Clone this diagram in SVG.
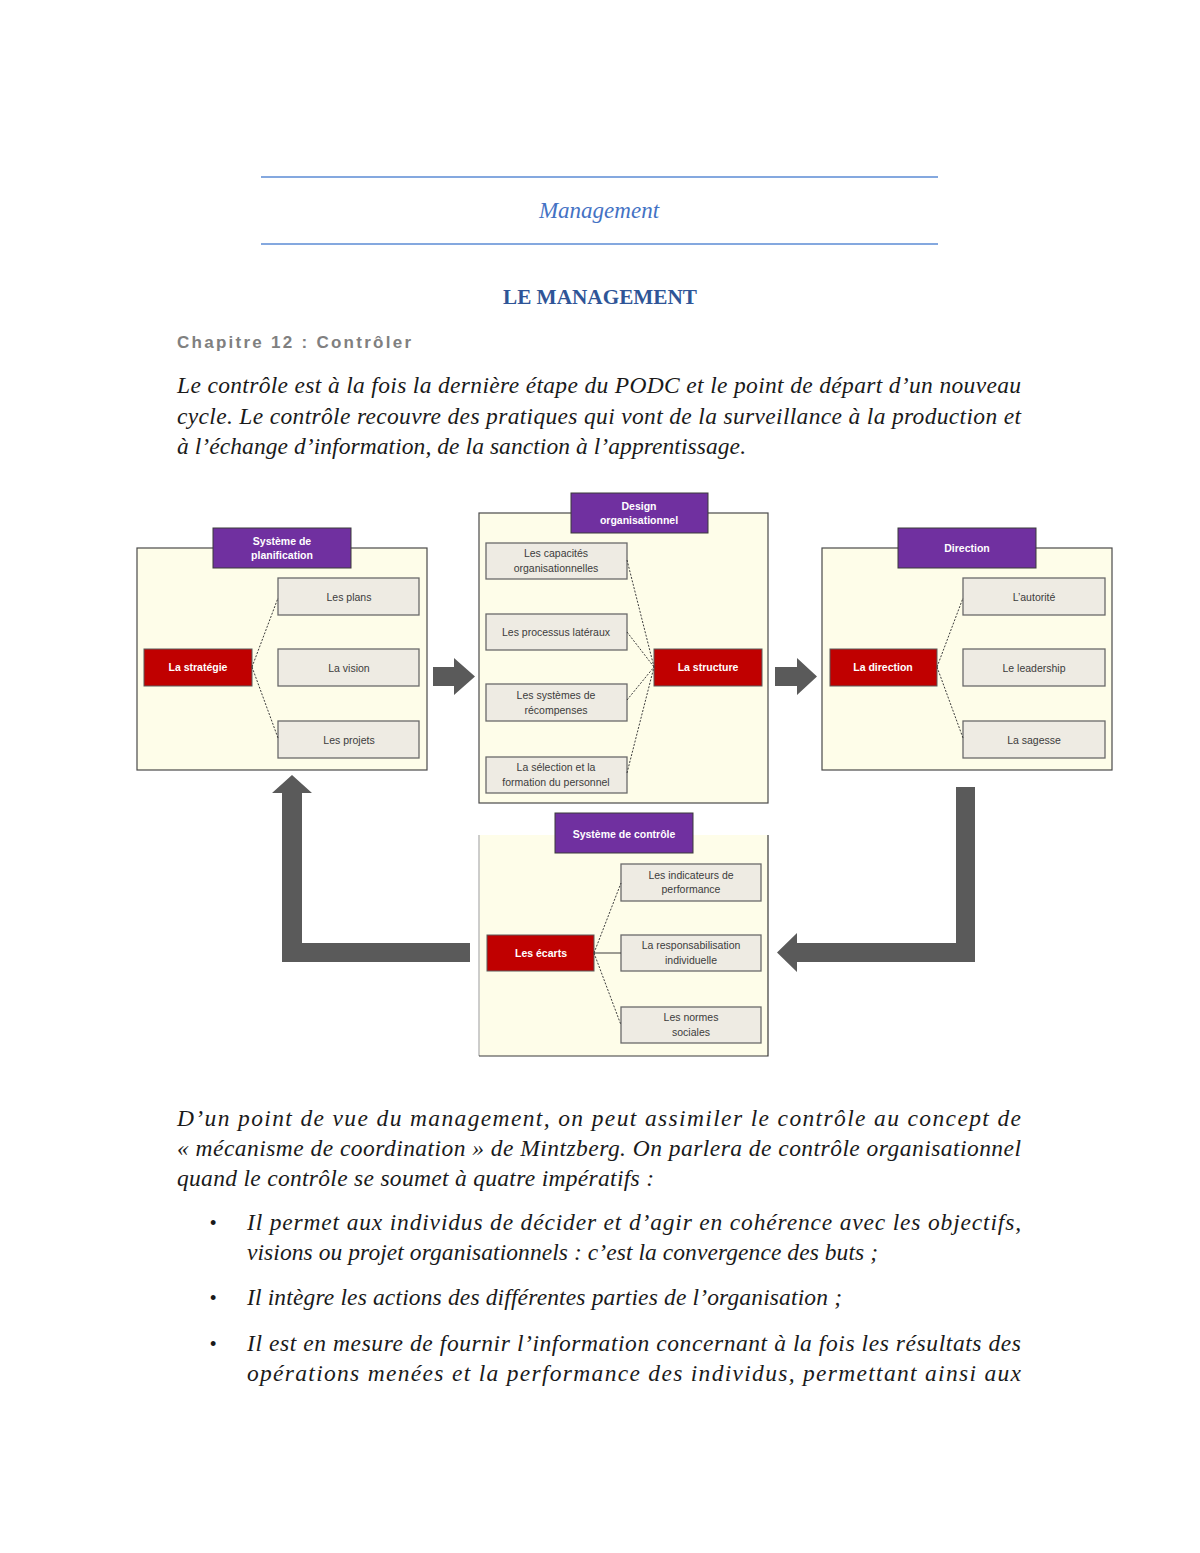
<svg xmlns="http://www.w3.org/2000/svg" width="1200" height="1553" viewBox="0 0 1200 1553">
<style>
.body{font-family:"Liberation Serif","DejaVu Serif",serif;font-style:italic;font-size:23.5px;fill:#1a1a1a}
.frame{fill:#fefde9;stroke:#4a4a4a;stroke-width:1.2}
.title{fill:#7030a0;stroke:#3a3a3a;stroke-width:1}
.red{fill:#c00000;stroke:#5a5a5a;stroke-width:1}
.gray{fill:#eeebe3;stroke:#6a6a6a;stroke-width:1.3}
.wt{font-family:"Liberation Sans","DejaVu Sans",sans-serif;font-size:10.5px;font-weight:bold;fill:#ffffff;text-anchor:middle}
.gt{font-family:"Liberation Sans","DejaVu Sans",sans-serif;font-size:10.5px;fill:#3c3c3c;text-anchor:middle}
.dash{stroke:#3c3c3c;stroke-width:1;stroke-dasharray:2 1.5;fill:none}
.solid{stroke:#3c3c3c;stroke-width:1;fill:none}
.blk{fill:#5a5a5a}
</style>

<g id="header">
<line x1="261" y1="177" x2="938" y2="177" stroke="#5b8bd5" stroke-width="1.5"/>
<line x1="261" y1="244" x2="938" y2="244" stroke="#5b8bd5" stroke-width="1.5"/>
<text x="599" y="218" text-anchor="middle" font-family="Liberation Serif, serif" font-style="italic" font-size="23" fill="#4472c4">Management</text>
<text x="600" y="304" text-anchor="middle" font-family="Liberation Serif, serif" font-weight="bold" font-size="21" fill="#2f5597" textLength="194" lengthAdjust="spacingAndGlyphs">LE MANAGEMENT</text>
<text x="177" y="348" font-family="Liberation Sans, sans-serif" font-weight="bold" font-size="17" fill="#808080" textLength="234" lengthAdjust="spacing">Chapitre 12 : Contrôler</text>
</g>

<g id="intro">
<text class="body" x="177" y="393" textLength="844" lengthAdjust="spacing">Le contrôle est à la fois la dernière étape du PODC et le point de départ d’un nouveau</text>
<text class="body" x="177" y="424" textLength="844" lengthAdjust="spacing">cycle. Le contrôle recouvre des pratiques qui vont de la surveillance à la production et</text>
<text class="body" x="177" y="454" textLength="569" lengthAdjust="spacing">à l’échange d’information, de la sanction à l’apprentissage.</text>
</g>

<g id="connectors">
<path class="blk" d="M433,667 H454 V658 L475,676.5 L454,695 V686 H433 Z"/>
<path class="blk" d="M775,667 H797 V658 L817,676.5 L797,695 V686 H775 Z"/>
<path class="blk" d="M470,943 H302 V793 H312 L292,775 L272,793 H282 V962 H470 Z"/>
<path class="blk" d="M956,787 H975 V962 H797 V972 L777,952.5 L797,933 V943 H956 Z"/>
</g>

<g id="planification">
<rect class="frame" x="137" y="548" width="290" height="222"/>
<rect class="title" x="213" y="528" width="138" height="40"/>
<text class="wt" x="282" y="545">Système de</text>
<text class="wt" x="282" y="559">planification</text>
<rect class="red" x="144" y="649" width="108" height="37"/>
<text class="wt" x="198" y="671">La stratégie</text>
<rect class="gray" x="278" y="578" width="141" height="37"/>
<text class="gt" x="349" y="601">Les plans</text>
<rect class="gray" x="278" y="649" width="141" height="37"/>
<text class="gt" x="349" y="672">La vision</text>
<rect class="gray" x="278" y="721" width="141" height="37"/>
<text class="gt" x="349" y="744">Les projets</text>
<path class="dash" d="M252,667 L278,598 M252,667 L278,738"/>
</g>

<g id="design">
<rect class="frame" x="479" y="513" width="289" height="290"/>
<rect class="title" x="571" y="493" width="137" height="40"/>
<text class="wt" x="639" y="510">Design</text>
<text class="wt" x="639" y="524">organisationnel</text>
<rect class="gray" x="486" y="543" width="141" height="36"/>
<text class="gt" x="556" y="557">Les capacités</text>
<text class="gt" x="556" y="572">organisationnelles</text>
<rect class="gray" x="486" y="614" width="141" height="36"/>
<text class="gt" x="556" y="636">Les processus latéraux</text>
<rect class="gray" x="486" y="684" width="141" height="37"/>
<text class="gt" x="556" y="699">Les systèmes de</text>
<text class="gt" x="556" y="714">récompenses</text>
<rect class="gray" x="486" y="757" width="141" height="36"/>
<text class="gt" x="556" y="771">La sélection et la</text>
<text class="gt" x="556" y="786">formation du personnel</text>
<rect class="red" x="654" y="649" width="108" height="37"/>
<text class="wt" x="708" y="671">La structure</text>
<path class="dash" d="M627,560 L654,667 M627,632 L654,667 M627,700 L654,667 M627,773 L654,667"/>
</g>

<g id="direction">
<rect class="frame" x="822" y="548" width="290" height="222"/>
<rect class="title" x="898" y="528" width="138" height="40"/>
<text class="wt" x="967" y="552">Direction</text>
<rect class="red" x="830" y="649" width="107" height="37"/>
<text class="wt" x="883" y="671">La direction</text>
<rect class="gray" x="963" y="578" width="142" height="37"/>
<text class="gt" x="1034" y="601">L’autorité</text>
<rect class="gray" x="963" y="649" width="142" height="37"/>
<text class="gt" x="1034" y="672">Le leadership</text>
<rect class="gray" x="963" y="721" width="142" height="37"/>
<text class="gt" x="1034" y="744">La sagesse</text>
<path class="dash" d="M937,667 L963,598 M937,667 L963,738"/>
</g>

<g id="controle">
<rect x="479" y="835" width="289" height="221" fill="#fefde9"/>
<path d="M479,835 V1056" stroke="#bdbdbd" stroke-width="1.5" fill="none"/>
<path d="M479,1056 H768 V835" stroke="#3a3a3a" stroke-width="1.2" fill="none"/>
<rect class="title" x="555" y="813" width="138" height="40"/>
<text class="wt" x="624" y="838">Système de contrôle</text>
<rect class="red" x="487" y="935" width="107" height="36"/>
<text class="wt" x="541" y="957">Les écarts</text>
<rect class="gray" x="621" y="864" width="140" height="37"/>
<text class="gt" x="691" y="879">Les indicateurs de</text>
<text class="gt" x="691" y="893">performance</text>
<rect class="gray" x="621" y="935" width="140" height="36"/>
<text class="gt" x="691" y="949">La responsabilisation</text>
<text class="gt" x="691" y="964">individuelle</text>
<rect class="gray" x="621" y="1007" width="140" height="36"/>
<text class="gt" x="691" y="1021">Les normes</text>
<text class="gt" x="691" y="1036">sociales</text>
<path class="dash" d="M594,953 L621,883 M594,953 L621,1025"/>
<path class="solid" d="M594,953 H621"/>
</g>

<g id="text2">
<text class="body" x="177" y="1126" textLength="844" lengthAdjust="spacing">D’un point de vue du management, on peut assimiler le contrôle au concept de</text>
<text class="body" x="177" y="1156" textLength="844" lengthAdjust="spacing">« mécanisme de coordination » de Mintzberg. On parlera de contrôle organisationnel</text>
<text class="body" x="177" y="1186" textLength="477" lengthAdjust="spacing">quand le contrôle se soumet à quatre impératifs :</text>
<text x="210" y="1229" font-family="Liberation Sans, sans-serif" font-size="18" fill="#1a1a1a">•</text>
<text class="body" x="247" y="1230" textLength="774" lengthAdjust="spacing">Il permet aux individus de décider et d’agir en cohérence avec les objectifs,</text>
<text class="body" x="247" y="1260" textLength="631" lengthAdjust="spacing">visions ou projet organisationnels : c’est la convergence des buts ;</text>
<text x="210" y="1304" font-family="Liberation Sans, sans-serif" font-size="18" fill="#1a1a1a">•</text>
<text class="body" x="247" y="1305" textLength="595" lengthAdjust="spacing">Il intègre les actions des différentes parties de l’organisation ;</text>
<text x="210" y="1350" font-family="Liberation Sans, sans-serif" font-size="18" fill="#1a1a1a">•</text>
<text class="body" x="247" y="1351" textLength="774" lengthAdjust="spacing">Il est en mesure de fournir l’information concernant à la fois les résultats des</text>
<text class="body" x="247" y="1381" textLength="774" lengthAdjust="spacing">opérations menées et la performance des individus, permettant ainsi aux</text>
</g>
</svg>
